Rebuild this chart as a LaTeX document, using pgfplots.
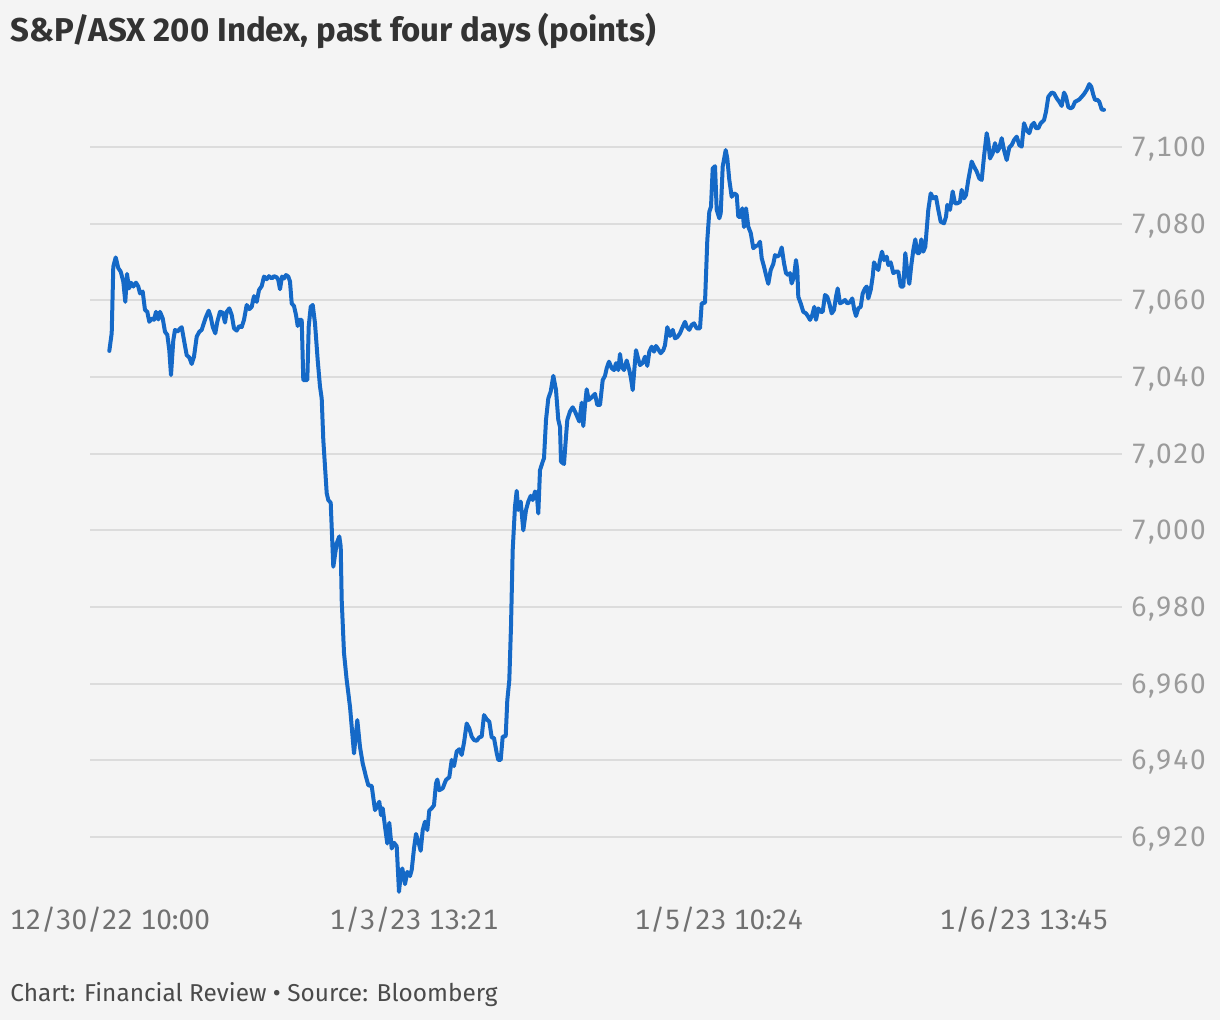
\documentclass[border=0pt]{standalone}
\usepackage{fontspec}
\setmainfont{Fira Sans}
\newfontfamily\titlefont{Fira Sans}
\newfontfamily\tabfont[Numbers=Monospaced]{Fira Sans}
\newfontfamily\ytabfont[Numbers=Monospaced,LetterSpace=4.5]{Fira Sans}
\usepackage{pgfplots}
\pgfplotsset{compat=1.18}
\definecolor{bg}{HTML}{F4F4F4}
\definecolor{linec}{HTML}{1569C7}
\definecolor{gridc}{HTML}{DCDCDC}
\definecolor{ylab}{HTML}{9B9B9B}
\definecolor{xlab}{HTML}{707070}
\definecolor{titlec}{HTML}{333333}
\definecolor{footc}{HTML}{4A4A4A}
\begin{document}
\begin{tikzpicture}
\fill[bg] (0,0) rectangle (610bp,510bp);
\begin{axis}[
  at={(45bp,62.75bp)}, anchor=south west,
  scale only axis, width=516bp, height=412.08bp,
  xmin=90, xmax=1122, ymin=6905, ymax=7120,
  clip=false,
  axis line style={draw=none},
  major tick length=0pt,
  ymajorgrids, grid style={gridc, line width=1bp},
  ytick={6920,6940,6960,6980,7000,7020,7040,7060,7080,7100},
  yticklabels={{6,920},{6,940},{6,960},{6,980},{7,000},{7,020},{7,040},{7,060},{7,080},{7,100}},
  yticklabel pos=right,
  yticklabel style={anchor=base west, inner sep=0pt, xshift=4.4bp, yshift=-4.8bp, text=ylab, font=\ytabfont\fontsize{14bp}{16bp}\selectfont},
  xtick={110,414,719,1024},
  xticklabels={12/30/22 10:00, 1/3/23 13:21, 1/5/23 10:24, 1/6/23 13:45},
  xticklabel style={anchor=base, inner sep=0pt, yshift=-17.75bp, text=xlab, font=\tabfont\fontsize{14bp}{16bp}\selectfont},
]
\addplot[linec, line width=2bp, line join=round, line cap=round] coordinates {
(109.3,7046.8)(111.7,7051.4)(113.3,7068.8)(115.7,7071.2)(118.3,7068.4)(120.7,7067.5)(123.3,7064.9)(125.3,7059.6)(127,7066.9)(129,7063.1)
(131,7064.6)(133.3,7063.6)(136,7064.6)(138.3,7063.6)(140,7061.8)(142.7,7062.3)(145,7057.5)(147.3,7057)(149.3,7054.4)(151.7,7055.3)
(154,7054.9)(156,7057)(158.3,7055)(160,7057)(162.7,7055.3)(165,7051.8)(167.3,7051)(169.3,7047)(171,7040.5)(173.3,7049.6)
(175,7052.3)(177.3,7051.8)(179.3,7052.4)(181.7,7053)(184,7049.6)(186.7,7045.7)(189.3,7045.1)(191.7,7043.4)(194,7045.3)(196.7,7050.5)
(199.3,7051.8)(201.7,7052.3)(203.3,7053.6)(206,7055.7)(208.7,7057.3)(210.7,7055.7)(212.7,7053.1)(215.3,7051.4)(217.3,7054.4)(220,7057)
(222.7,7056.8)(225,7054.2)(226.7,7057)(229.3,7057.9)(231.7,7056.2)(234,7052.7)(236.7,7052.1)(239.3,7053.3)(241.7,7053)(244,7054.9)
(246.7,7058.8)(249.3,7057.7)(251.7,7058.3)(254,7061.1)(256.7,7059.6)(259,7062.7)(261.7,7063.7)(264,7066.2)(266.7,7065.5)(269,7066.3)
(271.7,7065.7)(274,7066.3)(276.7,7066)(278.3,7065.3)(280,7062.9)(282,7066.2)(284,7065.7)(286,7066.6)(288.3,7066.2)(290,7064.9)
(291.7,7059.2)(294,7058.5)(296,7056.2)(297.7,7053.3)(299.3,7054.9)(301.7,7054.9)(303.3,7039.2)(307.3,7039.2)(308.7,7053.1)(310.7,7058.3)
(312.7,7058.8)(315,7054)(317.7,7044.4)(320,7037.5)(321.7,7034.4)(323.3,7023.6)(326.7,7009.7)(328.3,7007.9)(330.7,7007.2)(333.3,6990.5)
(336.7,6996.6)(339.3,6998.4)(340.7,6995.8)(341.7,6981.8)(344,6968)(346.7,6960.9)(350,6954)(354,6941.8)(357.3,6950.5)(360,6943.5)
(362.7,6939.2)(366,6935.7)(368.3,6933.5)(371.7,6933.3)(375,6927)(377.3,6928.1)(379.3,6929.2)(381,6925.7)(382.7,6927.5)(385,6922.7)
(387.3,6918.3)(389.3,6923.7)(391.7,6917)(394,6918.5)(396.7,6917.6)(399,6905.7)(400.7,6910.1)(402.3,6911.8)(405,6907.7)(407.3,6910.9)
(410,6909.8)(411.7,6911.4)(414,6917)(416,6920.8)(418.3,6918.8)(420.7,6916.4)(422.7,6921.8)(425,6924)(427.3,6921.8)(429.3,6926.9)
(431.7,6927.5)(434,6928.3)(436,6934)(437.3,6935)(439.3,6932.2)(442.7,6932.7)(446,6934.9)(449.3,6935.6)(451.7,6940.1)(454,6938.5)
(456.7,6942.3)(459.3,6942.9)(461.7,6941.4)(464,6944.6)(466.7,6949.6)(469.3,6948.3)(471.7,6946.2)(474,6945.3)(476.7,6945.1)(479.3,6946)
(481.7,6946.2)(484,6951.8)(486.7,6950.7)(489.3,6950.1)(491.7,6946)(494,6945.8)(496.7,6941.9)(498.3,6940.1)(500.7,6940.1)(502.7,6946.2)
(505.7,6946.3)(507.3,6955.7)(509.3,6960.9)(511,6975)(512.7,6994.9)(515,7006.2)(516.7,7010.3)(518.3,7005.3)(520.7,7007.5)(523.3,7000)
(526,7005.3)(528.3,7007.5)(530.7,7009)(532.7,7007.9)(535,7010.1)(536.7,7009.7)(538.3,7004.4)(540,7015.7)(542.7,7017.9)(544,7018.8)
(546,7028.8)(548.3,7034.4)(550.7,7036.2)(553.3,7040.3)(556,7036.6)(558.3,7028.8)(560,7027)(561,7017.9)(564,7017.3)(566,7024.4)
(567.3,7028.8)(570,7031)(572.7,7032.1)(575,7031)(577.3,7029.6)(579.3,7028.4)(581.7,7033.3)(583.3,7027.2)(585,7032.7)(586.7,7036.8)
(588.7,7034)(591.7,7034.7)(595,7035.6)(597.3,7032.7)(600,7032.7)(602.7,7039.2)(605,7040.3)(606.7,7042.3)(609,7044)(611.7,7042.3)
(614,7041.8)(616,7043.6)(618.3,7041.8)(620,7046)(621.7,7042.7)(624,7041.8)(626.7,7044.3)(629.3,7041.8)(631,7039.6)(632.7,7036.6)
(634.3,7041.8)(636,7047)(638.3,7044.6)(640,7043.1)(642.7,7043.7)(645,7045.3)(647.3,7042.9)(649.3,7046.6)(651.7,7047.9)(654,7046.6)
(656,7048.1)(658.3,7047.2)(660.7,7046.2)(663.3,7047)(665,7048.3)(667.3,7053)(670,7050.7)(672.7,7052.3)(675,7050.1)(677.3,7050.4)
(680,7051.4)(682.7,7053.1)(685,7054.4)(686.7,7053.1)(689.3,7052.3)(691.7,7053.6)(694,7054)(696.7,7052.7)(700,7052.7)(701.7,7059.2)
(705,7059.4)(707.3,7075.7)(709.3,7083.1)(711,7084.4)(712.7,7094.4)(715,7095)(716.7,7083.6)(719.3,7081.4)(720.7,7082.7)(722.7,7094.9)
(725.7,7099.2)(727.3,7097)(729.3,7091.4)(731.7,7087)(734,7087.9)(736.7,7087.5)(738.3,7081.8)(740.7,7081.8)(742.3,7084)(744,7079.1)
(746,7084)(748.3,7079.2)(750.7,7077.6)(753.3,7073.6)(756,7074.2)(758.3,7074.4)(760,7075.3)(761.7,7071)(764,7068.8)(766,7066.6)
(768.3,7064.3)(770.7,7067.9)(773.3,7069.5)(775,7071.8)(777.3,7071.4)(779.3,7071.8)(781.7,7073.8)(784,7069.7)(786,7067.1)(788.3,7066.6)
(790,7067.1)(791.7,7064.4)(794,7066.2)(796,7070.5)(797.3,7067.9)(798.3,7060.9)(800.7,7059.2)(803.3,7057)(806,7056.6)(808.3,7055.7)
(810,7054.9)(812.3,7056.2)(814.3,7058.3)(816,7054.9)(818.3,7057.9)(820.7,7057)(822.7,7057)(825,7061.4)(827.3,7060.9)(829.3,7059.2)
(831.7,7056.6)(834,7057.5)(836,7060.9)(837.7,7063.1)(840,7059.2)(842.7,7059.6)(845,7060.1)(847.3,7059.2)(850,7059.5)(852.3,7060.5)
(854.3,7057.5)(856,7055.9)(858.3,7057.9)(860.7,7058.3)(862.7,7061.8)(865,7063.1)(866.7,7063.6)(868.3,7060.5)(870.7,7062.7)(872.7,7066.2)
(874,7069.9)(876,7068.8)(878.3,7067.9)(880,7070.5)(882,7072.7)(884,7070.5)(886.7,7071.4)(888.3,7069.2)(890.7,7069.9)(893.3,7067.1)
(896,7067.5)(898.3,7067.5)(900.7,7063.6)(903.3,7063.6)(905.3,7072.3)(907.3,7067.5)(909.3,7064.3)(911.3,7069.2)(913.3,7073.1)(915.3,7075.9)
(917.3,7072.3)(919.3,7072.3)(921.3,7075.9)(923.3,7072.7)(925.3,7074)(928.3,7083.6)(930.7,7087.9)(933.3,7086.6)(936,7087)(938.3,7083.6)
(940.7,7080.5)(944,7080.1)(946,7081.8)(947.3,7084.9)(950,7083.6)(952.7,7088.4)(955,7085.3)(957.3,7085.3)(960,7085.7)(961.7,7088.8)
(964,7086.6)(966,7087.5)(968.3,7091.4)(971.7,7096.2)(974,7094.9)(976.7,7093.6)(979.3,7091.8)(981.7,7091.4)(984,7097.5)(986.7,7103.6)
(988.3,7101.4)(990,7097)(992.7,7098.4)(995,7101)(997.3,7098.8)(999.3,7099.7)(1001.7,7102.3)(1004,7099.2)(1006.7,7096.6)(1009.3,7099.9)
(1011.7,7100.5)(1014,7101.8)(1016.7,7102.7)(1019.3,7100.5)(1021.7,7100.1)(1024,7106.2)(1026.7,7104.3)(1029.3,7103.6)(1031.7,7105.7)(1034,7106.3)
(1036,7104.9)(1038.3,7104.9)(1040.7,7106.2)(1044,7107)(1046,7109.2)(1048.3,7113.1)(1051.7,7114.2)(1054,7114)(1056.7,7112.7)(1059.3,7111.8)
(1061.7,7110.7)(1064,7114.2)(1066,7113.1)(1068.3,7110.4)(1070.7,7110.1)(1072.7,7110.4)(1075,7111.8)(1077.3,7112.1)(1079.3,7112.4)(1081.7,7113.1)
(1084,7113.8)(1086.7,7114.9)(1089.3,7116.4)(1091.3,7115.7)(1093.3,7113.6)(1095,7112.3)(1097.3,7112.3)(1099.3,7111.8)(1101.7,7109.8)(1104,7109.7)
};
\end{axis}
\node[anchor=base west, inner sep=0pt, text=titlec, font=\titlefont\bfseries\fontsize{16.5bp}{20bp}\selectfont] at (5bp,489.15bp) {S\&P/ASX 200 Index, past four days (points)};
\node[anchor=base west, inner sep=0pt, text=footc, font=\fontsize{12.2bp}{14bp}\selectfont] at (5bp,9.15bp) {Chart: Financial Review • Source: Bloomberg};
\end{tikzpicture}
\end{document}
